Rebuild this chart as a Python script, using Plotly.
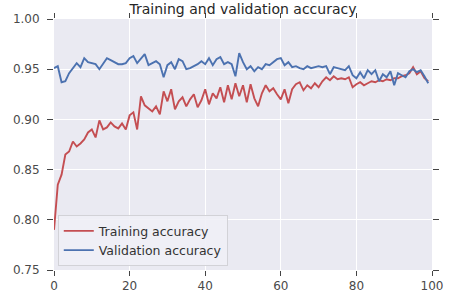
import plotly.graph_objects as go

epochs = list(range(100))
training_acc = [
    0.790, 0.835, 0.845, 0.865, 0.868, 0.878, 0.873, 0.876, 0.880, 0.887,
    0.890, 0.882, 0.899, 0.890, 0.892, 0.897, 0.893, 0.891, 0.896, 0.890,
    0.904, 0.907, 0.890, 0.923, 0.914, 0.911, 0.908, 0.913, 0.905, 0.928,
    0.918, 0.930, 0.910, 0.918, 0.922, 0.913, 0.920, 0.925, 0.912, 0.919,
    0.930, 0.915, 0.926, 0.921, 0.932, 0.917, 0.934, 0.920, 0.936, 0.923,
    0.934, 0.917, 0.935, 0.921, 0.913, 0.926, 0.934, 0.928, 0.931, 0.925,
    0.920, 0.930, 0.916, 0.930, 0.935, 0.937, 0.929, 0.934, 0.931, 0.936,
    0.932, 0.938, 0.942, 0.939, 0.943, 0.940, 0.941, 0.940, 0.942, 0.932,
    0.935, 0.937, 0.934, 0.936, 0.938, 0.937, 0.939, 0.938, 0.940, 0.939,
    0.941, 0.941, 0.943, 0.944, 0.946, 0.952, 0.945, 0.948, 0.941, 0.938,
]
validation_acc = [
    0.951, 0.953, 0.937, 0.938, 0.946, 0.951, 0.956, 0.952, 0.961, 0.957,
    0.956, 0.955, 0.950, 0.956, 0.961, 0.959, 0.957, 0.955, 0.955, 0.956,
    0.961, 0.963, 0.956, 0.960, 0.965, 0.954, 0.956, 0.958, 0.955, 0.942,
    0.954, 0.957, 0.950, 0.960, 0.958, 0.950, 0.951, 0.953, 0.955, 0.958,
    0.955, 0.961, 0.954, 0.960, 0.962, 0.955, 0.957, 0.955, 0.943, 0.966,
    0.957, 0.950, 0.953, 0.948, 0.952, 0.950, 0.955, 0.954, 0.957, 0.960,
    0.961, 0.954, 0.957, 0.952, 0.953, 0.951, 0.950, 0.953, 0.951, 0.952,
    0.953, 0.952, 0.953, 0.945, 0.952, 0.951, 0.950, 0.949, 0.953, 0.944,
    0.941, 0.947, 0.941, 0.949, 0.945, 0.949, 0.938, 0.945, 0.942, 0.948,
    0.934, 0.946, 0.944, 0.942, 0.948, 0.950, 0.947, 0.949, 0.943, 0.936,
]
x_ticks = [0, 20, 40, 60, 80, 100]
y_ticks = [0.75, 0.80, 0.85, 0.90, 0.95, 1.00]

fig = go.Figure()
fig.add_trace(go.Scatter(x=epochs, y=training_acc, mode="lines", name="Training accuracy",
                         line=dict(color="#C44E52", width=1.9)))
fig.add_trace(go.Scatter(x=epochs, y=validation_acc, mode="lines", name="Validation accuracy",
                         line=dict(color="#4C72B0", width=1.9)))

axis_common = dict(showgrid=True, gridcolor="white", gridwidth=1.2, zeroline=False,
                   ticks="outside", tickwidth=1.2, tickcolor="#444", mirror="ticks",
                   showline=False, automargin=False,
                   tickfont=dict(family="DejaVu Sans", size=12, color="#4a4a4a"))

fig.update_layout(
    width=474, height=295,
    margin=dict(l=54, r=42, t=19, b=25, autoexpand=False),
    paper_bgcolor="white", plot_bgcolor="#EAEAF2",
    title=dict(text="Training and validation accuracy", x=243/474, xanchor="center",
               y=1 - 9/295, yanchor="middle", yref="container",
               font=dict(family="DejaVu Sans", size=14, color="#262626")),
    xaxis=dict(range=[0, 100], tickvals=x_ticks, ticktext=[str(v) for v in x_ticks],
               ticklen=5, ticklabelstandoff=0, **axis_common),
    yaxis=dict(range=[0.75, 1.0], tickvals=y_ticks, ticktext=[f"{v:.2f}" for v in y_ticks],
               ticklen=6, ticklabelstandoff=5, **axis_common),
    legend=dict(x=0.01, y=0.015, xanchor="left", yanchor="bottom",
                bgcolor="rgba(240,240,246,0.9)", bordercolor="rgba(210,210,215,1)", borderwidth=1,
                font=dict(family="DejaVu Sans", size=12.5, color="#333"),
                tracegroupgap=0, itemwidth=30),
    showlegend=True,
)

fig.write_html("out.html")
